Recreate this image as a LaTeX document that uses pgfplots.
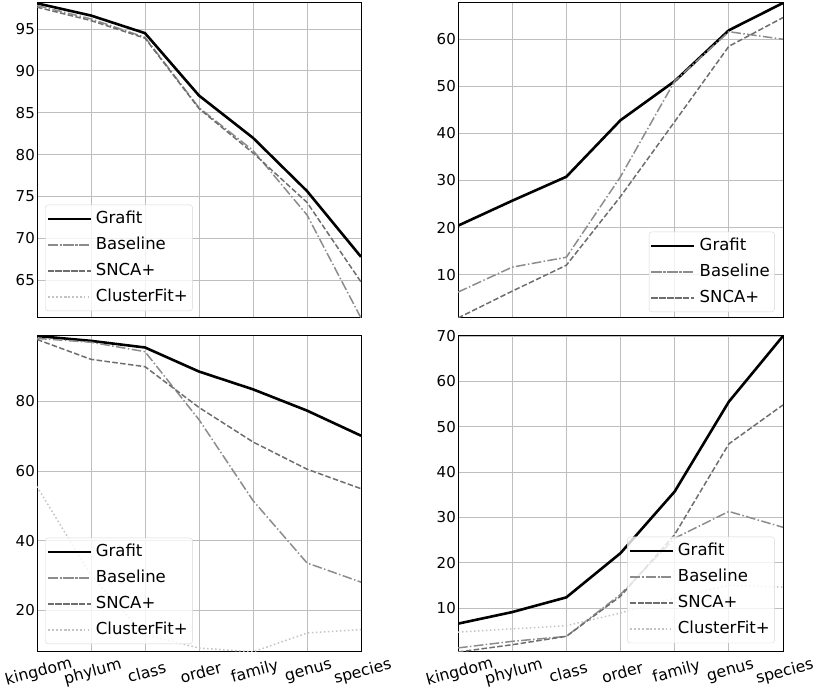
\documentclass[border=0pt]{standalone}
\usepackage{fontspec}
\setmainfont{DejaVu Sans}
\usepackage{pgfplots}
\usepackage{pgfplotstable}
\pgfplotsset{compat=1.18}

\definecolor{gridgray}{RGB}{190,190,190}
\definecolor{basegray}{RGB}{140,140,140}
\definecolor{sncagray}{RGB}{110,110,110}
\definecolor{clgray}{RGB}{195,195,195}
\definecolor{legframe}{RGB}{215,215,215}

% top-left
\pgfplotstableread{
x grafit baseline snca
0 98.06 97.8 97.6
1 96.6 96.2 96.0
2 94.5 94.0 93.9
3 87.05 85.6 85.5
4 82.0 80.5 80.2
5 75.65 72.8 74.3
6 67.8 60.5 64.8
}\tabA
% top-right
\pgfplotstableread{
x grafit baseline snca
0 20.4 6.3 0.8
1 25.7 11.6 6.5
2 30.8 13.7 12.0
3 42.8 30.8 26.6
4 51.1 51.1 42.5
5 61.9 61.6 58.5
6 67.7 60.0 64.6
}\tabB
% bottom-left
\pgfplotstableread{
x grafit baseline snca cluster
0 98.7 98.0 97.7 55.5
1 97.3 96.9 92.0 30.0
2 95.4 94.2 89.9 13.0
3 88.5 74.7 78.2 9.2
4 83.4 51.5 68.3 8.1
5 77.3 33.6 60.5 13.5
6 70.1 28.1 54.9 14.5
}\tabC
% bottom-right
\pgfplotstableread{
x grafit baseline snca cluster
0 6.55 1.2 0.3 4.7
1 9.1 2.65 1.9 5.4
2 12.35 3.75 3.75 6.1
3 22.1 13.0 12.6 8.9
4 35.7 25.4 26.2 12.2
5 55.5 31.3 46.2 15.0
6 70.0 27.8 54.8 14.6
}\tabD

\pgfplotsset{
  panel/.style={
    scale only axis, width=324bp, height=315bp,
    xmin=0, xmax=6, xtick={0,...,6},
    grid=major, grid style={line width=0.8bp, gridgray},
    axis line style={line width=1bp},
    tick style={draw=none},
    yticklabel style={font=\fontsize{15bp}{18bp}\selectfont, inner xsep=2bp},
    /pgf/number format/assume math mode=true,
    legend cell align=left,
    legend image code/.code={%
      \path (-1bp,0bp) -- (42bp,0bp);
      \draw[##1] plot coordinates {(0bp,0bp) (17bp,0bp) (34bp,0bp)};},
    legend style={font=\fontsize{16.5bp}{19bp}\selectfont, draw=legframe,
      rounded corners=3bp, fill=white, fill opacity=0.8, text opacity=1,
      draw opacity=1, inner xsep=1bp, inner ysep=1bp,
      nodes={inner xsep=4bp, inner ysep=5.5bp, text height=12bp, text depth=3bp}},
  },
  nolabels/.style={xticklabels={}},
  catlabels/.style={xticklabels={kingdom,phylum,class,order,family,genus,species},
    xticklabel style={font=\fontsize{15.7bp}{19bp}\selectfont, rotate=15,
      anchor=center, yshift=-20bp, xshift=-3.5bp}},
  grafit/.style={black, line width=2.6bp},
  baseline/.style={basegray, line width=1.5bp, dash pattern=on 9.6bp off 2.4bp on 1.5bp off 2.4bp},
  snca/.style={sncagray, line width=1.5bp, dash pattern=on 5.5bp off 2.4bp},
  cluster/.style={clgray, line width=1.5bp, dash pattern=on 1.5bp off 2.5bp},
}

\begin{document}
\begin{tikzpicture}[x=1bp,y=1bp]
\useasboundingbox (0,0) rectangle (816,693);

\begin{axis}[panel, nolabels, at={(37bp,375bp)}, anchor=south west,
  ymin=60.5, ymax=98.1, ytick={65,70,...,95},
  legend style={at={(axis description cs:0.025,0.022)}, anchor=south west}]
\addplot[grafit] table[x=x,y=grafit] {\tabA};
\addplot[baseline] table[x=x,y=baseline] {\tabA};
\addplot[snca] table[x=x,y=snca] {\tabA};
\addlegendimage{cluster}
\legend{Grafit,Baseline,SNCA+,ClusterFit+}
\end{axis}

\begin{axis}[panel, nolabels, at={(458bp,375bp)}, anchor=south west, width=325bp,
  ymin=0.8, ymax=67.7, ytick={10,20,...,60},
  legend style={at={(axis description cs:0.975,0.019)}, anchor=south east}]
\addplot[grafit] table[x=x,y=grafit] {\tabB};
\addplot[baseline] table[x=x,y=baseline] {\tabB};
\addplot[snca] table[x=x,y=snca] {\tabB};
\legend{Grafit,Baseline,SNCA+}
\end{axis}

\begin{axis}[panel, catlabels, at={(37bp,41bp)}, anchor=south west, height=316bp,
  ymin=8.06, ymax=98.7, ytick={20,40,60,80},
  legend style={at={(axis description cs:0.025,0.025)}, anchor=south west}]
\addplot[grafit] table[x=x,y=grafit] {\tabC};
\addplot[baseline] table[x=x,y=baseline] {\tabC};
\addplot[snca] table[x=x,y=snca] {\tabC};
\addplot[cluster] table[x=x,y=cluster] {\tabC};
\legend{Grafit,Baseline,SNCA+,ClusterFit+}
\end{axis}

\begin{axis}[panel, catlabels, at={(458bp,41bp)}, anchor=south west, width=325bp, height=316bp,
  ymin=0.3, ymax=70, ytick={10,20,...,70},
  legend style={at={(axis description cs:0.975,0.028)}, anchor=south east}]
\addplot[grafit] table[x=x,y=grafit] {\tabD};
\addplot[baseline] table[x=x,y=baseline] {\tabD};
\addplot[snca] table[x=x,y=snca] {\tabD};
\addplot[cluster] table[x=x,y=cluster] {\tabD};
\legend{Grafit,Baseline,SNCA+,ClusterFit+}
\end{axis}
\end{tikzpicture}
\end{document}
